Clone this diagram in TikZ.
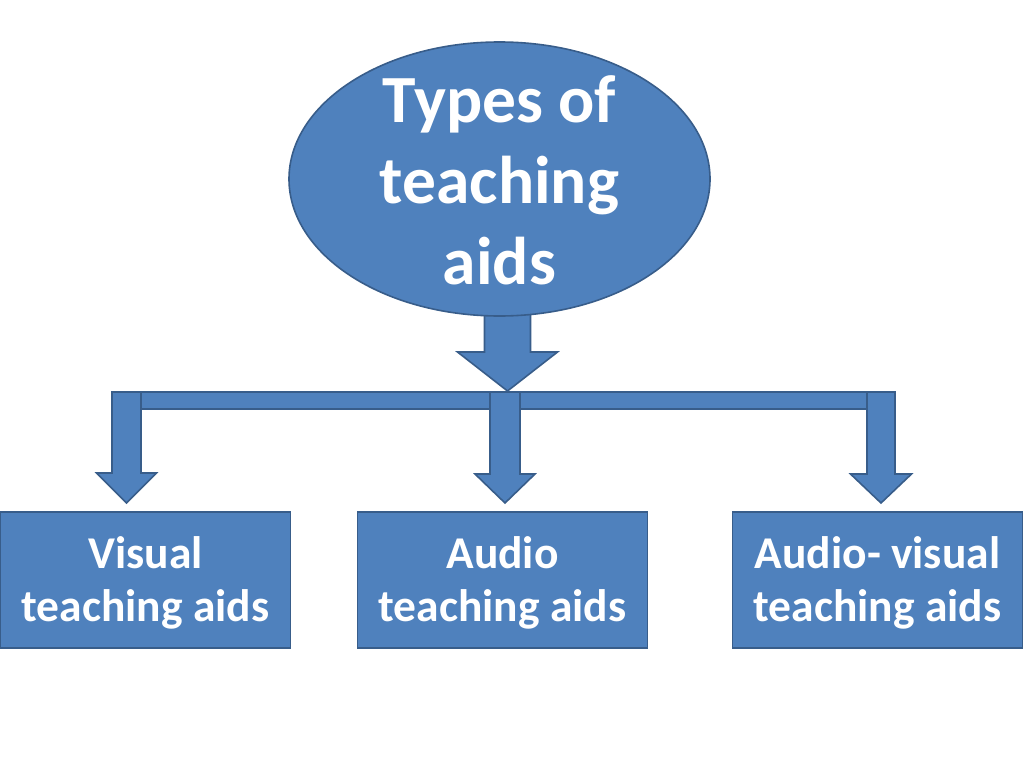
\documentclass[tikz,border=0pt]{standalone}
\usepackage{fontspec}
\setmainfont{Carlito}
\usetikzlibrary{shapes.geometric}
\definecolor{boxfill}{HTML}{4F81BD}
\definecolor{boxline}{HTML}{385D8A}
\newcommand\blockarrow[6]{%
  \filldraw[arrowshape] ({#1-#5},#2) -- ({#1+#5},#2) -- ({#1+#5},#3) -- ({#1+#6},#3)
    -- (#1,#4) -- ({#1-#6},#3) -- ({#1-#5},#3) -- cycle;}
\begin{document}
\begin{tikzpicture}[x=1pt,y=-1pt,
  arrowshape/.style={fill=boxfill,draw=boxline,line width=1.6pt,line join=miter},
  aidbox/.style={rectangle,fill=boxfill,draw=boxline,line width=1.6pt,
    minimum width=290pt,minimum height=136pt,inner sep=0pt},
  aidtext/.style={text=white,align=center,inner sep=0pt,
    font=\bfseries\fontsize{45.5}{53}\selectfont},
  topshape/.style={ellipse,fill=boxfill,draw=boxline,line width=1.6pt,
    minimum width=421pt,minimum height=274pt,inner sep=0pt},
  toptext/.style={text=white,align=center,inner sep=0pt,
    font=\bfseries\fontsize{67.5}{81}\selectfont}]
\useasboundingbox (0,0) rectangle (1024,768);
\fill[white] (0,0) rectangle (1024,768);
% arrow from the ellipse down to the bar
\blockarrow{507.5}{300}{352}{391}{23}{50}
\node[topshape] (top) at (499.5,179) {};
\node[toptext] (toplabel) at (499.5,180) {Types of\\teaching\\aids};
% horizontal bar
\filldraw[arrowshape] (112,392) rectangle (893,409);
% three arrows down to the boxes
\blockarrow{126.5}{392}{473}{503}{14.5}{30}
\blockarrow{505}{392}{474}{503}{15}{30}
\blockarrow{881}{392}{474}{503}{14}{30.5}
\node[aidbox] (visual) at (145.5,580) {};
\node[aidbox] (audio) at (502.5,580) {};
\node[aidbox] (av) at (877.5,580) {};
\node[aidtext] (visuallabel) at ([yshift=-3pt]visual.center) {Visual\\teaching aids};
\node[aidtext] (audiolabel) at ([yshift=-3pt]audio.center) {Audio\\teaching aids};
\node[aidtext] (avlabel) at ([yshift=-3pt]av.center) {Audio- visual\\teaching aids};
\end{tikzpicture}
\end{document}
